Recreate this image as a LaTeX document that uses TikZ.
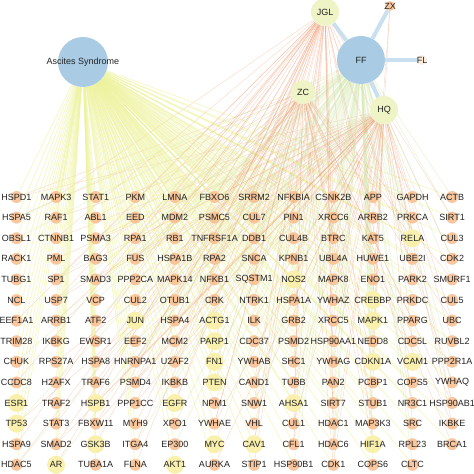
\documentclass[tikz,border=0pt]{standalone}
\usepackage{fontspec}
\setmainfont{Liberation Sans}
\usepackage{tikz}
\definecolor{c0}{HTML}{A9CCE4}
\definecolor{c1}{HTML}{CADFEF}
\definecolor{c2}{HTML}{EFF4C6}
\definecolor{c3}{HTML}{F8BD8E}
\definecolor{c4}{HTML}{F9F0AE}
\definecolor{c5}{HTML}{EDF29C}
\definecolor{c6}{HTML}{F09A72}
\definecolor{c7}{HTML}{D3E8B0}
\definecolor{c8}{HTML}{222222}

\pgfdeclarelayer{links}
\pgfsetlayers{links,main}

\newif\ifhub

\tikzset{
	bignode/.style={circle, fill=c0, inner sep=0pt},
	herbnode/.style={circle, fill=c2, inner sep=0pt},
	dotnode/.style={circle, fill=c3, fill opacity=0.85, inner sep=0pt, minimum size=12pt},
	hubnode/.style={circle, fill=c4, inner sep=0pt, minimum size=18pt},
	thisgene/.style={dotnode},
	dlink/.style={c5, line width=0.9pt, opacity=0.5},
	hlink/.style={c6, line width=0.4pt, opacity=0.4},
	flink/.style={c7, line width=1pt, opacity=0.35},
	blink/.style={c1, line width=4pt}
}

\begin{document}
\begin{tikzpicture}[x=1pt,y=-1pt,font=\fontsize{9}{10.8}\selectfont,text=c8]
\useasboundingbox (0,0) rectangle (474,474);

% disease, formula and herbs
\node[bignode, minimum size=50pt, label=center:Ascites Syndrome] (as) at (83,62) {};
\node[bignode, minimum size=48pt, label=center:FF] (ff) at (361,60) {};
\node[herbnode, minimum size=28pt, label=center:JGL] (jgl) at (325,12) {};
\node[herbnode, minimum size=24pt, label=center:ZC] (zc) at (303,92) {};
\node[herbnode, minimum size=28pt, label=center:HQ] (hq) at (384,110) {};
\node[dotnode, minimum size=10pt, label=center:ZX] (zx) at (390,6) {};
\node[dotnode, minimum size=10pt, fill opacity=0.3, label=center:FL] (fl) at (422,60) {};

% targets
\def\hubs{35,56,70,76,78,82,90,102,106,107,114,121,123,125,128,133,147,150,151,154,158,161}
\foreach \row [count=\r] in {
	{HSPD1,MAPK3,STAT1,PKM,LMNA,FBXO6,SRRM2,NFKBIA,CSNK2B,APP,GAPDH,ACTB},
	{HSPA5,RAF1,ABL1,EED,MDM2,PSMC5,CUL7,PIN1,XRCC6,ARRB2,PRKCA,SIRT1},
	{OBSL1,CTNNB1,PSMA3,RPA1,RB1,TNFRSF1A,DDB1,CUL4B,BTRC,KAT5,RELA,CUL3},
	{RACK1,PML,BAG3,FUS,HSPA1B,RPA2,SNCA,KPNB1,UBL4A,HUWE1,UBE2I,CDK2},
	{TUBG1,SP1,SMAD3,PPP2CA,MAPK14,NFKB1,SQSTM1,NOS2,MAPK8,ENO1,PARK2,SMURF1},
	{NCL,USP7,VCP,CUL2,OTUB1,CRK,NTRK1,HSPA1A,YWHAZ,CREBBP,PRKDC,CUL5},
	{EEF1A1,ARRB1,ATF2,JUN,HSPA4,ACTG1,ILK,GRB2,XRCC5,MAPK1,PPARG,UBC},
	{TRIM28,IKBKG,EWSR1,EEF2,MCM2,PARP1,CDC37,PSMD2,HSP90AA1,NEDD8,CDC5L,RUVBL2},
	{CHUK,RPS27A,HSPA8,HNRNPA1,U2AF2,FN1,YWHAB,SHC1,YWHAG,CDKN1A,VCAM1,PPP2R1A},
	{CCDC8,H2AFX,TRAF6,PSMD4,IKBKB,PTEN,CAND1,TUBB,PAN2,PCBP1,COPS5,YWHAQ},
	{ESR1,TRAF2,HSPB1,PPP1CC,EGFR,NPM1,SNW1,AHSA1,SIRT7,STUB1,NR3C1,HSP90AB1},
	{TP53,STAT3,FBXW11,MYH9,XPO1,YWHAE,VHL,CUL1,HDAC1,MAP3K3,SRC,IKBKE},
	{HSPA9,SMAD2,GSK3B,ITGA4,EP300,MYC,CAV1,CFL1,HDAC6,HIF1A,RPL23,BRCA1},
	{HDAC5,AR,TUBA1A,FLNA,AKT1,AURKA,STIP1,HSP90B1,CDK1,COPS6,CLTC}}{
	\foreach \g [count=\c] in \row {
		\pgfmathtruncatemacro{\n}{(\r-1)*12+\c}
		\global\hubfalse
		\foreach \h in \hubs {\ifnum\h=\n \global\hubtrue\fi}
		\ifhub\tikzset{thisgene/.style={hubnode}}\fi
		\node[thisgene, label=center:\g] (g\n) at ({16.5+39.6*(\c-1)},{197+20.6*(\r-1)}) {};
	}
}

% links
\pgfmathsetseed{7}
\begin{pgfonlayer}{links}
\foreach \n in {1,...,167}{
	\draw[dlink] (as) -- (g\n);
	\pgfmathtruncatemacro{\ra}{rnd<0.33}
	\pgfmathtruncatemacro{\rb}{rnd<0.25}
	\pgfmathtruncatemacro{\rc}{rnd<0.35}
	\pgfmathtruncatemacro{\rd}{rnd<0.45}
	\ifnum\ra=1 \draw[hlink] (jgl) -- (g\n);\fi
	\ifnum\rb=1 \draw[hlink] (zc) -- (g\n);\fi
	\ifnum\rc=1 \draw[hlink] (hq) -- (g\n);\fi
	\ifnum\rd=1 \draw[flink] (ff) -- (g\n);\fi
}
\draw[hlink] (zx) -- (g34);
\draw[hlink] (zx) -- (g70);
\draw[blink] (ff) -- (jgl);
\draw[blink] (ff) -- (zx);
\draw[blink] (ff) -- (fl);
\draw[blink] (ff) -- (hq);
\end{pgfonlayer}

\end{tikzpicture}
\end{document}
